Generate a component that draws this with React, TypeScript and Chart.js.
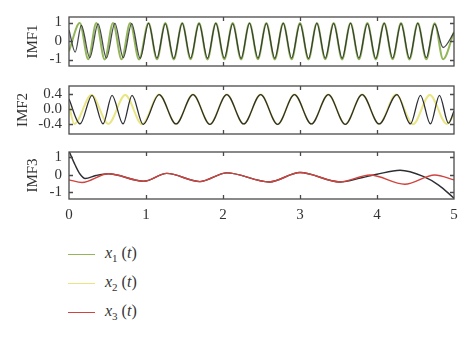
import React, { useEffect, useRef } from 'react';
import { Chart, registerables } from 'chart.js';

Chart.register(...registerables);

// ---------- data ----------
const xTicks = [0, 1, 2, 3, 4, 5];
const imf1Ticks = [-1, 0, 1];
const imf2Ticks = [-0.4, 0, 0.4];
const imf3Ticks = [-1, 0, 1];

// IMF1 – reference (dark) component
const imf1RefT = [0, 0.08, 0.16, 0.27, 0.377, 0.486, 0.596, 0.705, 0.814, 0.924, 1.033, 1.142, 1.251, 1.361, 1.47, 1.579, 1.689, 1.798, 1.907, 2.017, 2.126, 2.235, 2.344, 2.454, 2.563, 2.672, 2.782, 2.891, 3.0, 3.11, 3.219, 3.328, 3.437, 3.547, 3.656, 3.765, 3.875, 3.984, 4.093, 4.203, 4.312, 4.421, 4.53, 4.64, 4.749, 4.858, 5.0];
const imf1RefV = [0.6, -0.6, 0.85, -0.9, 0.93, -0.92, 0.95, -0.9, 0.94, -0.93, 0.95, -0.92, 0.93, -0.94, 0.95, -0.92, 0.94, -0.93, 0.95, -0.92, 0.93, -0.94, 0.95, -0.92, 0.94, -0.93, 0.95, -0.92, 0.93, -0.94, 0.95, -0.92, 0.94, -0.93, 0.95, -0.92, 0.93, -0.94, 0.95, -0.92, 0.94, -0.93, 0.95, -0.9, 0.92, -0.35, 0.45];
// IMF1 – x1(t)
const imf1X1T = [0, 0.14, 0.25, 0.355, 0.463, 0.572, 0.683, 0.795, 0.91, 1.033, 1.142, 1.251, 1.361, 1.47, 1.579, 1.689, 1.798, 1.907, 2.017, 2.126, 2.235, 2.344, 2.454, 2.563, 2.672, 2.782, 2.891, 3.0, 3.11, 3.219, 3.328, 3.437, 3.547, 3.656, 3.765, 3.875, 3.984, 4.093, 4.203, 4.312, 4.421, 4.53, 4.64, 4.749, 4.858, 5.0];
const imf1X1V = [-0.55, 0.97, -0.98, 0.98, -1.0, 0.97, -0.99, 0.98, -1.0, 0.98, -0.99, 0.97, -1.0, 0.98, -0.98, 0.97, -1.0, 0.98, -0.99, 0.97, -1.0, 0.98, -0.98, 0.97, -1.0, 0.98, -0.99, 0.97, -1.0, 0.98, -0.98, 0.97, -1.0, 0.98, -0.99, 0.97, -1.0, 0.98, -0.98, 0.97, -1.0, 0.98, -0.99, 0.96, -0.98, 0.5];

// IMF2 – reference (dark) component
const imf2RefT = [0, 0.143, 0.299, 0.442, 0.559, 0.702, 0.819, 0.962, 1.17, 1.39, 1.61, 1.83, 2.049, 2.269, 2.489, 2.709, 2.928, 3.148, 3.368, 3.588, 3.807, 4.027, 4.26, 4.434, 4.564, 4.694, 4.811, 4.928, 5.0];
const imf2RefV = [0.27, -0.4, 0.37, -0.4, 0.37, -0.4, 0.37, -0.41, 0.39, -0.4, 0.39, -0.41, 0.39, -0.4, 0.39, -0.41, 0.39, -0.4, 0.39, -0.41, 0.39, -0.4, 0.39, -0.4, 0.37, -0.4, 0.37, -0.38, -0.05];
// IMF2 – x2(t)
const imf2X2T = [0, 0.07, 0.291, 0.511, 0.73, 0.95, 1.17, 1.39, 1.61, 1.83, 2.049, 2.269, 2.489, 2.709, 2.928, 3.148, 3.368, 3.588, 3.807, 4.027, 4.247, 4.467, 4.686, 4.906, 5.0];
const imf2X2V = [0.1, -0.4, 0.38, -0.4, 0.38, -0.41, 0.39, -0.4, 0.39, -0.41, 0.39, -0.4, 0.39, -0.41, 0.39, -0.4, 0.39, -0.41, 0.39, -0.4, 0.39, -0.41, 0.38, -0.4, -0.15];

// IMF3 – reference (dark) component
const imf3RefT = [0, 0.08, 0.14, 0.21, 0.35, 0.51, 0.97, 1.27, 1.7, 2.05, 2.6, 3.0, 3.52, 3.8, 4.0, 4.3, 4.6, 4.8, 5.0];
const imf3RefV = [1.35, 0.55, 0.05, -0.22, -0.05, 0.05, -0.38, 0.07, -0.4, 0.1, -0.42, 0.12, -0.42, -0.18, 0.02, 0.25, -0.1, -0.6, -1.35];
// IMF3 – x3(t)
const imf3X3T = [0, 0.17, 0.51, 0.97, 1.27, 1.7, 2.05, 2.6, 3.0, 3.52, 3.91, 4.36, 4.75, 5.0];
const imf3X3V = [-0.3, -0.45, 0.05, -0.38, 0.07, -0.4, 0.1, -0.42, 0.12, -0.42, -0.02, -0.55, -0.02, -0.3];

const legendLabels = ['1', '2', '3'];

// ---------- styles ----------
const DARK_SOFT = 'rgba(40,42,46,0.85)';
const DARK = '#2c2e33';
const GREEN = '#93b65a';
const YELLOW = '#e9e580';
const RED = '#d0443f';
const FRAME = '#4a4a4a';
const TEXT = '#333333';
const FONT = '"Liberation Serif", "DejaVu Serif", serif';
const W = 474;

const pts = (t: number[], v: number[]) => t.map((x, i) => ({ x, y: v[i] }));

const frameTicks = {
  id: 'frameTicks',
  afterDatasetsDraw(chart: any, _args: any, opts: any) {
    const { ctx, chartArea: a, scales } = chart;
    const len = 4;
    ctx.save();
    ctx.strokeStyle = FRAME;
    ctx.lineWidth = 1.3;
    ctx.beginPath();
    (opts.xTicks || []).forEach((v: number) => {
      const px = Math.round(scales.x.getPixelForValue(v)) + 0.5;
      ctx.moveTo(px, a.bottom);
      ctx.lineTo(px, a.bottom - len);
      ctx.moveTo(px, a.top);
      ctx.lineTo(px, a.top + len);
    });
    (opts.yTicks || []).forEach((v: number) => {
      const py = Math.round(scales.y.getPixelForValue(v)) + 0.5;
      ctx.moveTo(a.left, py);
      ctx.lineTo(a.left + len, py);
      ctx.moveTo(a.right, py);
      ctx.lineTo(a.right - len, py);
    });
    ctx.stroke();
    ctx.strokeRect(a.left, a.top, a.right - a.left, a.bottom - a.top);
    ctx.restore();
  },
};

type Series = { t: number[]; v: number[]; color: string; order: number; width: number };

type PanelProps = {
  top: number;
  height: number;
  padTop: number;
  padBottom: number;
  title: string;
  titlePad: number;
  yMin: number;
  yMax: number;
  yTicks: number[];
  decimals: number;
  series: Series[];
  showX: boolean;
};

function Panel(p: PanelProps) {
  const ref = useRef<HTMLCanvasElement>(null);
  useEffect(() => {
    const chart = new Chart(ref.current as HTMLCanvasElement, {
      type: 'line',
      data: {
        datasets: p.series.map((s) => ({
          data: pts(s.t, s.v),
          borderColor: s.color,
          borderWidth: s.width,
          pointRadius: 0,
          fill: false,
          cubicInterpolationMode: 'monotone',
          order: s.order,
        })),
      },
      options: {
        animation: false,
        responsive: false,
        devicePixelRatio: 1,
        events: [],
        layout: { padding: { left: 0, right: 20, top: p.padTop, bottom: p.padBottom } },
        plugins: {
          legend: { display: false },
          tooltip: { enabled: false },
          frameTicks: { xTicks: xTicks.slice(1, -1), yTicks: p.yTicks },
        } as any,
        scales: {
          x: {
            type: 'linear',
            min: 0,
            max: 5,
            display: p.showX,
            grid: { display: false, drawTicks: false },
            border: { display: false },
            afterBuildTicks: (s: any) => {
              s.ticks = xTicks.map((value) => ({ value }));
            },
            afterFit: (s: any) => {
              s.height = p.showX ? 31 : 0;
            },
            ticks: {
              padding: 7,
              color: TEXT,
              maxRotation: 0,
              autoSkip: false,
              font: { family: FONT, size: 15 },
              callback: (v: any) => String(v),
            },
          },
          y: {
            type: 'linear',
            min: p.yMin,
            max: p.yMax,
            grid: { display: false, drawTicks: false },
            border: { display: false },
            afterBuildTicks: (s: any) => {
              s.ticks = p.yTicks.map((value) => ({ value }));
            },
            afterFit: (s: any) => {
              s.width = 69;
            },
            ticks: {
              padding: 7,
              color: TEXT,
              autoSkip: false,
              font: { family: FONT, size: 15 },
              callback: (v: any) => Number(v).toFixed(p.decimals),
            },
            title: {
              display: true,
              text: p.title,
              color: TEXT,
              font: { family: FONT, size: 15 },
              padding: { top: p.titlePad, bottom: 0 },
            },
          },
        },
      } as any,
      plugins: [frameTicks],
    });
    return () => chart.destroy();
  }, []);
  return (
    <canvas
      ref={ref}
      width={W}
      height={p.height}
      style={{ position: 'absolute', left: 0, top: p.top, width: W, height: p.height, display: 'block' }}
    />
  );
}

const legendColors = [GREEN, YELLOW, RED];
const legendTops = [254, 283, 312];

export default function App() {
  return (
    <div style={{ position: 'absolute', left: 0, top: 0, width: W, height: 338, background: '#fff', overflow: 'hidden' }}>
      <Panel
        top={0}
        height={82}
        padTop={17}
        padBottom={12}
        title="IMF1"
        titlePad={24}
        yMin={-1.35}
        yMax={1.3}
        yTicks={imf1Ticks}
        decimals={0}
        showX={false}
        series={[
          { t: imf1RefT, v: imf1RefV, color: DARK_SOFT, order: 0, width: 1.3 },
          { t: imf1X1T, v: imf1X1V, color: GREEN, order: 1, width: 2 },
        ]}
      />
      <Panel
        top={70}
        height={80}
        padTop={14}
        padBottom={13}
        title="IMF2"
        titlePad={14}
        yMin={-0.67}
        yMax={0.62}
        yTicks={imf2Ticks}
        decimals={1}
        showX={false}
        series={[
          { t: imf2RefT, v: imf2RefV, color: DARK, order: 0, width: 1.3 },
          { t: imf2X2T, v: imf2X2V, color: YELLOW, order: 1, width: 1.9 },
        ]}
      />
      <Panel
        top={136}
        height={94}
        padTop={13}
        padBottom={0}
        title="IMF3"
        titlePad={24}
        yMin={-1.4}
        yMax={1.3}
        yTicks={imf3Ticks}
        decimals={0}
        showX={true}
        series={[
          { t: imf3X3T, v: imf3X3V, color: RED, order: 0, width: 1.4 },
          { t: imf3RefT, v: imf3RefV, color: DARK, order: 1, width: 1.4 },
        ]}
      />
      {legendLabels.map((lab, i) => (
        <div
          key={lab}
          style={{
            position: 'absolute',
            left: 68,
            top: legendTops[i] - 10,
            height: 20,
            display: 'flex',
            alignItems: 'center',
            fontFamily: FONT,
            fontSize: 16,
            color: TEXT,
            whiteSpace: 'nowrap',
          }}
        >
          <div style={{ width: 27, height: 0, borderTop: `1.5px solid ${legendColors[i]}`, marginRight: 10 }} />
          <span>
            <i>x</i>
            <sub style={{ fontSize: 11 }}>{lab}</sub>
            {' ('}
            <i>t</i>
            {')'}
          </span>
        </div>
      ))}
    </div>
  );
}
